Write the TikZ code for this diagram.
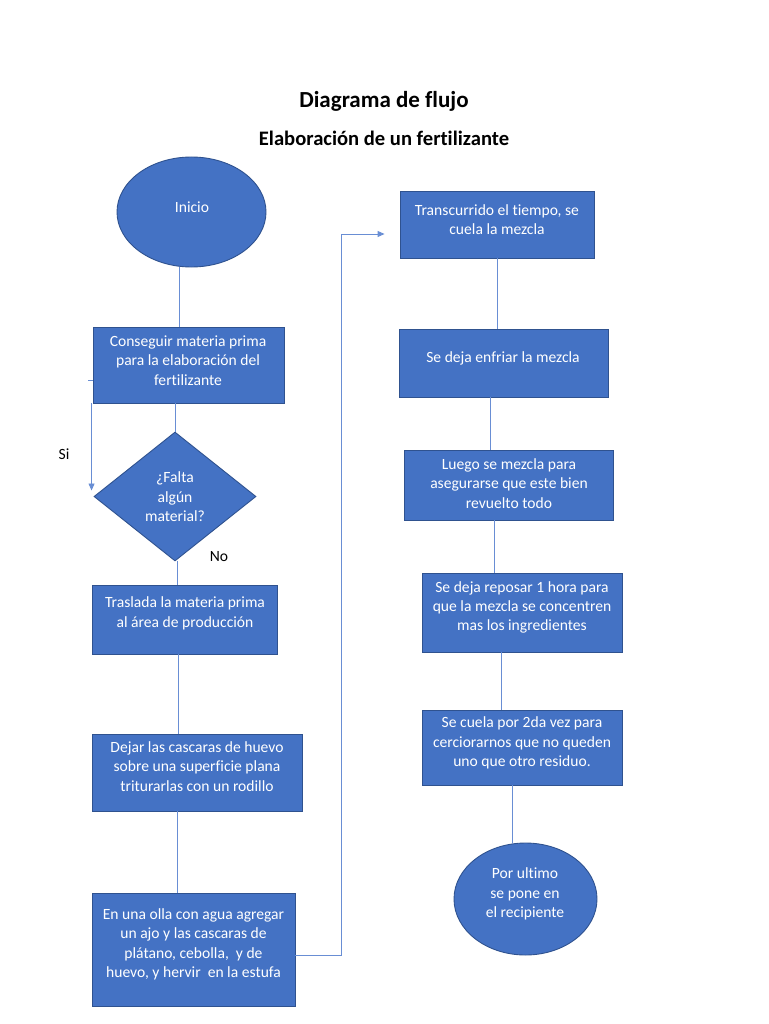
\documentclass[tikz,border=0pt]{standalone}
\usepackage{fontspec}
\setmainfont[Ligatures={NoCommon}]{Carlito}
\usetikzlibrary{shapes.geometric,arrows.meta}
\definecolor{boxfill}{RGB}{68,114,196}
\definecolor{boxline}{RGB}{47,82,143}
\definecolor{connline}{RGB}{105,142,212}
\tikzset{
  shapebase/.style={fill=boxfill,draw=boxline,line width=0.9pt,inner sep=0pt},
  stepbox/.style={shapebase,rectangle},
  oval/.style={shapebase,ellipse},
  decision/.style={shapebase,diamond},
  boxtext/.style={text=white,align=center,font=\fontsize{15.6}{19.4}\selectfont,inner sep=0pt},
  plain/.style={text=black,font=\fontsize{15.6}{18}\selectfont,inner sep=0pt},
  conn/.style={draw=connline,line width=0.9pt},
  tip/.style={-{Triangle[length=7pt,width=6pt]}}
}
\begin{document}
\begin{tikzpicture}[x=1pt,y=-1pt]
\useasboundingbox (0,0) rectangle (768,1024);
% titles
\node[font=\bfseries\fontsize{23}{27}\selectfont] (title) at (384,101) {Diagrama de flujo};
\node[font=\bfseries\fontsize{20.6}{24}\selectfont] (subtitle) at (384,138) {Elaboración de un fertilizante};
% left column shapes
\node[oval,minimum width=149pt,minimum height=110pt] (ini) at (191.5,212) {};
\node[stepbox,minimum width=191pt,minimum height=76pt] (b1) at (188.5,365) {};
\node[decision,aspect=1.256,minimum width=162pt,minimum height=129pt] (dia) at (175,496.5) {};
\node[stepbox,minimum width=185pt,minimum height=69pt] (b2) at (184.5,619.5) {};
\node[stepbox,minimum width=210pt,minimum height=77pt] (b3) at (197,772.5) {};
\node[stepbox,minimum width=203pt,minimum height=113pt] (b4) at (193.5,949.5) {};
% right column shapes
\node[stepbox,minimum width=194pt,minimum height=67pt] (r1) at (497,224.5) {};
\node[stepbox,minimum width=209pt,minimum height=68pt] (r2) at (503.5,363) {};
\node[stepbox,minimum width=209pt,minimum height=70pt] (r3) at (508.5,485) {};
\node[stepbox,minimum width=200pt,minimum height=79pt] (r4) at (522,612.5) {};
\node[stepbox,minimum width=200pt,minimum height=75pt] (r5) at (522,747.5) {};
\node[oval,minimum width=143pt,minimum height=112pt] (fin) at (525.5,899) {};
% texts
\node[boxtext] (tini) at (192,207) {Inicio};
\node[boxtext] (tb1) at (188,360.5) {Conseguir materia prima\\para la elaboración del\\fertilizante};
\node[boxtext] (tdia) at (175,497) {¿Falta\\algún\\material?};
\node[boxtext] (tb2) at (185,613.5) {Traslada la materia prima\\al área de producción};
\node[boxtext] (tb3) at (197,766.5) {Dejar las cascaras de huevo\\sobre una superficie plana\\triturarlas con un rodillo};
\node[boxtext] (tb4) at (193.5,944.5) {En una olla con agua agregar\\un ajo y las cascaras de\\plátano, cebolla,\ \ y de\\huevo, y hervir\ \ en la estufa};
\node[boxtext] (tr1) at (497,219.5) {Transcurrido el tiempo, se\\cuela la mezcla};
\node[boxtext] (tr2) at (503,358) {Se deja enfriar la mezcla};
\node[boxtext] (tr3) at (509,483.5) {Luego se mezcla para\\asegurarse que este bien\\revuelto todo};
\node[boxtext] (tr4) at (522,607.5) {Se deja reposar 1 hora para\\que la mezcla se concentren\\mas los ingredientes};
\node[boxtext] (tr5) at (522,743) {Se cuela por 2da vez para\\cerciorarnos que no queden\\uno que otro residuo.};
\node[boxtext] (tfin) at (525,894) {Por ultimo\\se pone en\\el recipiente};
% labels
\node[plain] (si) at (64,454) {Si};
\node[plain] (no) at (219,557) {No};
% connectors
\draw[conn] ([xshift=-12.5pt]ini.south) -- ([xshift=-9.5pt]b1.north);
\draw[conn] ([xshift=-13.5pt]b1.south) -- (dia.north);
\draw[conn] ([yshift=-15pt]b1.west) -- ++(-5,0);
\draw[conn,tip] ([xshift=-1pt]b1.south west) -- ([xshift=-2pt,yshift=6pt]dia.west);
\draw[conn] ([xshift=2pt]dia.south) -- ([xshift=-7.5pt]b2.north);
\draw[conn] ([xshift=-6.5pt]b2.south) -- ([xshift=-19pt]b3.north);
\draw[conn] ([xshift=-20pt]b3.south) -- ([xshift=-16.5pt]b4.north);
\draw[conn,tip] ([yshift=-5.5pt]b4.east) -- ++(46,0) |- ([xshift=-15pt,yshift=-9.5pt]r1.west);
\draw[conn] (r1.south) -- ([xshift=-6.5pt]r2.north);
\draw[conn] ([xshift=-13.5pt]r2.south) -- ([xshift=-18.5pt]r3.north);
\draw[conn] ([xshift=-14.5pt]r3.south) -- ([xshift=-28pt]r4.north);
\draw[conn] ([xshift=-21pt]r4.south) -- ([xshift=-21pt]r5.north);
\draw[conn] ([xshift=-10pt]r5.south) -- ([xshift=-13.5pt]fin.north);
\end{tikzpicture}
\end{document}
